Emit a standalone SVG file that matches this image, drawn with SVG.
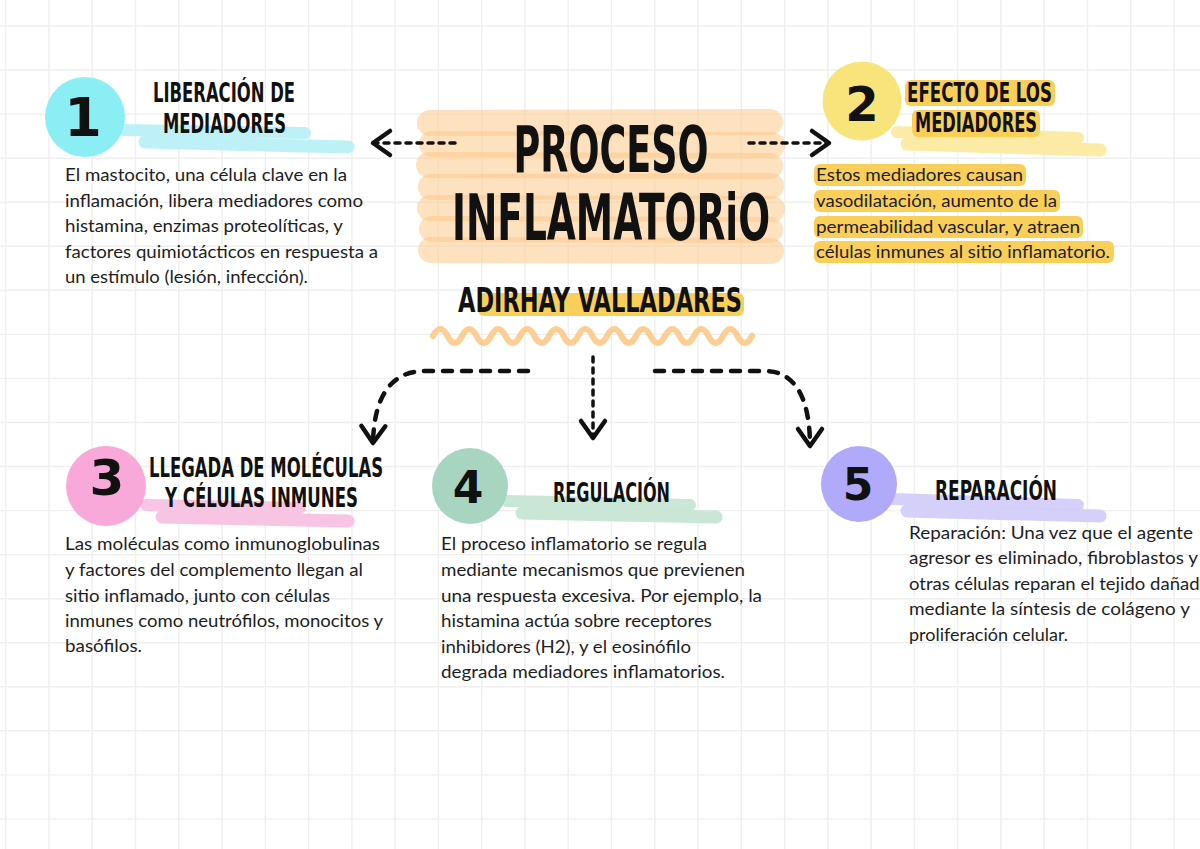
<svg xmlns="http://www.w3.org/2000/svg" width="1200" height="849" viewBox="0 0 1200 849">
<defs>
<style>
.grid{stroke:#efefef;stroke-width:1.4;fill:none}
.hd{font-family:"Liberation Sans Narrow","DejaVu Sans Condensed","Roboto",sans-serif;font-weight:700;font-stretch:condensed;fill:#111;text-anchor:middle}
.h1{font-size:27px}
.ttl{font-size:64px}
.auth{font-size:34px}
.num{font-family:"DejaVu Sans","Noto Sans",sans-serif;font-weight:700;fill:#111;text-anchor:middle}
.body{font-family:"Lato","Noto Sans",sans-serif;font-size:16.5px;fill:#1e1e1e}
.brush{fill:none;stroke-linecap:round}
.hl{fill:#f9cf5a}
.dash{fill:none;stroke:#111;stroke-width:4.5;stroke-linecap:round;stroke-dasharray:9 10}
.dot{fill:none;stroke:#111;stroke-width:3.5;stroke-linecap:round;stroke-dasharray:5 6}
</style>
<marker id="chev" markerUnits="userSpaceOnUse" orient="auto" refX="0" refY="0" overflow="visible">
<path d="M-17,-12 L0,0 L-17,12" fill="none" stroke="#111" stroke-width="4.5" stroke-linecap="round" stroke-linejoin="round"/>
</marker>
</defs>
<rect width="1200" height="849" fill="#ffffff"/>
<path class="grid" d="M5.7,0V849M49,0V849M92.2,0V849M135.5,0V849M178.8,0V849M222.1,0V849M265.3,0V849M308.6,0V849M351.9,0V849M395.1,0V849M438.4,0V849M481.7,0V849M524.9,0V849M568.2,0V849M611.5,0V849M654.8,0V849M698,0V849M741.3,0V849M784.6,0V849M827.8,0V849M871.1,0V849M914.4,0V849M957.6,0V849M1000.9,0V849M1044.2,0V849M1087.5,0V849M1130.7,0V849M1174,0V849M0,26H1200M0,70H1200M0,114.1H1200M0,158.2H1200M0,202.2H1200M0,246.3H1200M0,290.3H1200M0,334.4H1200M0,378.4H1200M0,422.5H1200M0,466.5H1200M0,510.6H1200M0,554.6H1200M0,598.7H1200M0,642.7H1200M0,686.8H1200M0,730.8H1200M0,774.9H1200M0,818.9H1200"/>

<g id="title">
<g class="brush" stroke="#fdc989" stroke-opacity="0.55" stroke-width="26">
<path d="M430,123 L770,122"/>
<path d="M432,144 L772,145"/>
<path d="M429,165 L770,166"/>
<path d="M431,187 L771,186"/>
<path d="M430,208 L772,209"/>
<path d="M432,229 L770,230"/>
<path d="M431,250 L771,251"/>
</g>
<text class="hd ttl" x="611" y="172" textLength="195" lengthAdjust="spacingAndGlyphs">PROCESO</text>
<text class="hd ttl" x="611" y="240" textLength="318" lengthAdjust="spacingAndGlyphs">INFLAMATORiO</text>
<rect class="hl" x="478" y="293" width="266" height="23" rx="6"/>
<text class="hd auth" x="600" y="312" textLength="284" lengthAdjust="spacingAndGlyphs">ADIRHAY VALLADARES</text>
<path d="M433,336 q7.25,-14 14.5,0 t14.5,0 t14.5,0 t14.5,0 t14.5,0 t14.5,0 t14.5,0 t14.5,0 t14.5,0 t14.5,0 t14.5,0 t14.5,0 t14.5,0 t14.5,0 t14.5,0 t14.5,0 t14.5,0 t14.5,0 t14.5,0 t14.5,0 t14.5,0 t14.5,0" fill="none" stroke="#fbc580" stroke-opacity="0.85" stroke-width="6" stroke-linecap="round"/>
</g>

<g id="connectors">
<path class="dot" d="M455,143 H373" marker-end="url(#chev)"/>
<path class="dot" d="M749,143 H829" marker-end="url(#chev)"/>
<path class="dash" d="M528,371 H425 C392,371 374,395 373,443" marker-end="url(#chev)"/>
<path class="dot" d="M593,357 V438" stroke-width="4.5" marker-end="url(#chev)"/>
<path class="dash" d="M655,371 H765 C795,371 810,398 810,446" marker-end="url(#chev)"/>
</g>

<g id="node1">
<g class="brush" stroke="#b6f0f6" stroke-opacity="0.9">
<path d="M122,130 L305,133" stroke-width="12"/>
<path d="M145,142 L348,147" stroke-width="13"/>
</g>
<circle cx="85" cy="117" r="40" fill="#8beef4"/>
<text class="num" x="83" y="136" font-size="54">1</text>
<text class="hd h1" x="224" y="102" textLength="142" lengthAdjust="spacingAndGlyphs">LIBERACIÓN DE</text>
<text class="hd h1" x="224.5" y="133" textLength="123" lengthAdjust="spacingAndGlyphs">MEDIADORES</text>
<text class="body" x="65" y="181" textLength="282" lengthAdjust="spacingAndGlyphs">El mastocito, una célula clave en la</text>
<text class="body" x="65" y="207" textLength="298" lengthAdjust="spacingAndGlyphs">inflamación, libera mediadores como</text>
<text class="body" x="65" y="232" textLength="278" lengthAdjust="spacingAndGlyphs">histamina, enzimas proteolíticas, y</text>
<text class="body" x="65" y="257.5" textLength="313" lengthAdjust="spacingAndGlyphs">factores quimiotácticos en respuesta a</text>
<text class="body" x="65" y="283" textLength="243" lengthAdjust="spacingAndGlyphs">un estímulo (lesión, infección).</text>
</g>

<g id="node2">
<g class="brush" stroke="#fbeaa2" stroke-opacity="0.95">
<path d="M897,132 L1078,138" stroke-width="12"/>
<path d="M907,144 L1100,150" stroke-width="13"/>
</g>
<circle cx="862" cy="101" r="39.5" fill="#f8e47a"/>
<text class="num" x="862" y="121" font-size="48">2</text>
<rect class="hl" x="905" y="80" width="150" height="26" rx="6"/>
<rect class="hl" x="912" y="110" width="128" height="27" rx="6"/>
<text class="hd h1" x="979.5" y="102" textLength="145" lengthAdjust="spacingAndGlyphs">EFECTO DE LOS</text>
<text class="hd h1" x="976" y="132" textLength="122" lengthAdjust="spacingAndGlyphs">MEDIADORES</text>
<rect class="hl" x="814" y="164" width="212" height="22" rx="6"/>
<rect class="hl" x="814" y="190" width="246" height="22" rx="6"/>
<rect class="hl" x="814" y="216" width="269" height="22" rx="6"/>
<rect class="hl" x="814" y="241" width="300" height="22" rx="6"/>
<text class="body" x="816" y="181" textLength="207" lengthAdjust="spacingAndGlyphs">Estos mediadores causan</text>
<text class="body" x="816" y="207" textLength="241" lengthAdjust="spacingAndGlyphs">vasodilatación, aumento de la</text>
<text class="body" x="816" y="232.5" textLength="264" lengthAdjust="spacingAndGlyphs">permeabilidad vascular, y atraen</text>
<text class="body" x="816" y="258" textLength="294" lengthAdjust="spacingAndGlyphs">células inmunes al sitio inflamatorio.</text>
</g>

<g id="node3">
<g class="brush" stroke="#f7c2e2" stroke-opacity="0.95">
<path d="M146,505 L300,508" stroke-width="12"/>
<path d="M162,517 L348,521" stroke-width="13"/>
</g>
<circle cx="106" cy="486" r="40" fill="#f8a9d9"/>
<text class="num" x="107" y="495" font-size="50">3</text>
<text class="hd h1" x="266" y="477" textLength="234" lengthAdjust="spacingAndGlyphs">LLEGADA DE MOLÉCULAS</text>
<text class="hd h1" x="261.5" y="507" textLength="193" lengthAdjust="spacingAndGlyphs">Y CÉLULAS INMUNES</text>
<text class="body" x="65" y="550" textLength="315" lengthAdjust="spacingAndGlyphs">Las moléculas como inmunoglobulinas</text>
<text class="body" x="65" y="576" textLength="298" lengthAdjust="spacingAndGlyphs">y factores del complemento llegan al</text>
<text class="body" x="65" y="601.5" textLength="265" lengthAdjust="spacingAndGlyphs">sitio inflamado, junto con células</text>
<text class="body" x="65" y="627" textLength="318" lengthAdjust="spacingAndGlyphs">inmunes como neutrófilos, monocitos y</text>
<text class="body" x="65" y="652" textLength="77" lengthAdjust="spacingAndGlyphs">basófilos.</text>
</g>

<g id="node4">
<g class="brush" stroke="#c6e5d4" stroke-opacity="0.95">
<path d="M507,501 L690,505" stroke-width="12"/>
<path d="M522,513 L716,517" stroke-width="13"/>
</g>
<circle cx="470" cy="486" r="38" fill="#a8d5c1"/>
<text class="num" x="468" y="503" font-size="44">4</text>
<text class="hd h1" x="611.5" y="502" textLength="117" lengthAdjust="spacingAndGlyphs">REGULACIÓN</text>
<text class="body" x="441" y="550" textLength="266" lengthAdjust="spacingAndGlyphs">El proceso inflamatorio se regula</text>
<text class="body" x="441" y="576" textLength="304" lengthAdjust="spacingAndGlyphs">mediante mecanismos que previenen</text>
<text class="body" x="441" y="601.5" textLength="321" lengthAdjust="spacingAndGlyphs">una respuesta excesiva. Por ejemplo, la</text>
<text class="body" x="441" y="627" textLength="271" lengthAdjust="spacingAndGlyphs">histamina actúa sobre receptores</text>
<text class="body" x="441" y="652.5" textLength="250" lengthAdjust="spacingAndGlyphs">inhibidores (H2), y el eosinófilo</text>
<text class="body" x="441" y="678" textLength="284" lengthAdjust="spacingAndGlyphs">degrada mediadores inflamatorios.</text>
</g>

<g id="node5">
<g class="brush" stroke="#d3cef9" stroke-opacity="0.95">
<path d="M892,499 L1078,505" stroke-width="12"/>
<path d="M907,511 L1100,516" stroke-width="13"/>
</g>
<circle cx="859" cy="484" r="38" fill="#b1a9f9"/>
<text class="num" x="858" y="500" font-size="44">5</text>
<text class="hd h1" x="996" y="500" textLength="122" lengthAdjust="spacingAndGlyphs">REPARACIÓN</text>
<text class="body" x="909" y="538.5" textLength="284" lengthAdjust="spacingAndGlyphs">Reparación: Una vez que el agente</text>
<text class="body" x="909" y="564" textLength="289" lengthAdjust="spacingAndGlyphs">agresor es eliminado, fibroblastos y</text>
<text class="body" x="909" y="589.5" textLength="301" lengthAdjust="spacingAndGlyphs">otras células reparan el tejido dañado</text>
<text class="body" x="909" y="615" textLength="281" lengthAdjust="spacingAndGlyphs">mediante la síntesis de colágeno y</text>
<text class="body" x="909" y="640.5" textLength="159" lengthAdjust="spacingAndGlyphs">proliferación celular.</text>
</g>
</svg>
